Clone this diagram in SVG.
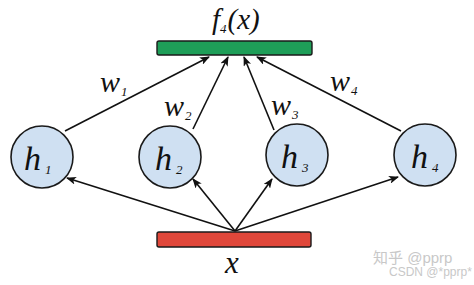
<svg xmlns="http://www.w3.org/2000/svg" width="474" height="285" viewBox="0 0 474 285">
<defs>
<marker id="ah" markerWidth="10" markerHeight="8" refX="9" refY="4" orient="auto" markerUnits="userSpaceOnUse">
<path d="M0,0 L10,4 L0,8 L2.5,4 Z" fill="#111"/>
</marker>
<style>
.node{fill:#cfe0f2;stroke:#1a1a1a;stroke-width:1.6}
.edge{stroke:#111;stroke-width:1.6;fill:none;marker-end:url(#ah)}
</style>
</defs>
<rect width="474" height="285" fill="#fff"/>
<g id="connectors">
<line class="edge" x1="65" y1="131" x2="209" y2="57"/>
<line class="edge" x1="193" y1="129" x2="228" y2="57"/>
<line class="edge" x1="274" y1="130" x2="244" y2="57"/>
<line class="edge" x1="401" y1="131" x2="257" y2="57"/>
<line class="edge" x1="235" y1="231" x2="67" y2="178"/>
<line class="edge" x1="235" y1="231" x2="193" y2="179"/>
<line class="edge" x1="235" y1="231" x2="272" y2="179"/>
<line class="edge" x1="235" y1="231" x2="398" y2="177"/>
</g>
<g id="output">
<rect x="157" y="41" width="155" height="14" rx="2" fill="#1e9e58" stroke="#1a1a1a" stroke-width="1.4"/>
<text x="212" y="29" font-family="Liberation Serif" font-style="italic" font-size="29" fill="#111">f<tspan font-size="13" dy="4">4</tspan><tspan dy="-4" dx="1">(x)</tspan></text>
</g>
<g id="input">
<rect x="157" y="232" width="154" height="15" rx="2" fill="#e0473a" stroke="#1a1a1a" stroke-width="1.4"/>
<text x="225" y="273" font-family="Liberation Serif" font-style="italic" font-size="31" fill="#111">x</text>
</g>
<g id="h1">
<circle class="node" cx="42" cy="157" r="31"/>
<text x="24" y="170" font-family="Liberation Serif" font-style="italic" font-size="34" fill="#111">h</text>
<text x="45" y="174" font-family="Liberation Serif" font-style="italic" font-size="13" fill="#111">1</text>
</g>
<g id="h2">
<circle class="node" cx="170" cy="157" r="31"/>
<text x="155" y="170" font-family="Liberation Serif" font-style="italic" font-size="34" fill="#111">h</text>
<text x="176" y="174" font-family="Liberation Serif" font-style="italic" font-size="13" fill="#111">2</text>
</g>
<g id="h3">
<circle class="node" cx="297" cy="155" r="31"/>
<text x="281" y="168" font-family="Liberation Serif" font-style="italic" font-size="34" fill="#111">h</text>
<text x="302" y="172" font-family="Liberation Serif" font-style="italic" font-size="13" fill="#111">3</text>
</g>
<g id="h4">
<circle class="node" cx="425" cy="155" r="31"/>
<text x="411" y="168" font-family="Liberation Serif" font-style="italic" font-size="34" fill="#111">h</text>
<text x="432" y="172" font-family="Liberation Serif" font-style="italic" font-size="13" fill="#111">4</text>
</g>
<g id="weights">
<text x="100" y="92" font-family="Liberation Serif" font-style="italic" font-size="30" fill="#111">w</text>
<text x="121" y="96" font-family="Liberation Serif" font-style="italic" font-size="13" fill="#111">1</text>
<text x="164" y="116" font-family="Liberation Serif" font-style="italic" font-size="30" fill="#111">w</text>
<text x="185" y="120" font-family="Liberation Serif" font-style="italic" font-size="13" fill="#111">2</text>
<text x="271" y="115" font-family="Liberation Serif" font-style="italic" font-size="30" fill="#111">w</text>
<text x="292" y="119" font-family="Liberation Serif" font-style="italic" font-size="13" fill="#111">3</text>
<text x="330" y="91" font-family="Liberation Serif" font-style="italic" font-size="30" fill="#111">w</text>
<text x="351" y="95" font-family="Liberation Serif" font-style="italic" font-size="13" fill="#111">4</text>
</g>
<g id="watermark" fill="#c8c8c8">
<text x="373" y="263" font-family="Liberation Sans, Noto Sans CJK SC, sans-serif" font-size="15">知乎 @pprp</text>
<text x="389" y="276" font-family="Liberation Sans, sans-serif" font-size="12">CSDN @*pprp*</text>
</g>
</svg>
